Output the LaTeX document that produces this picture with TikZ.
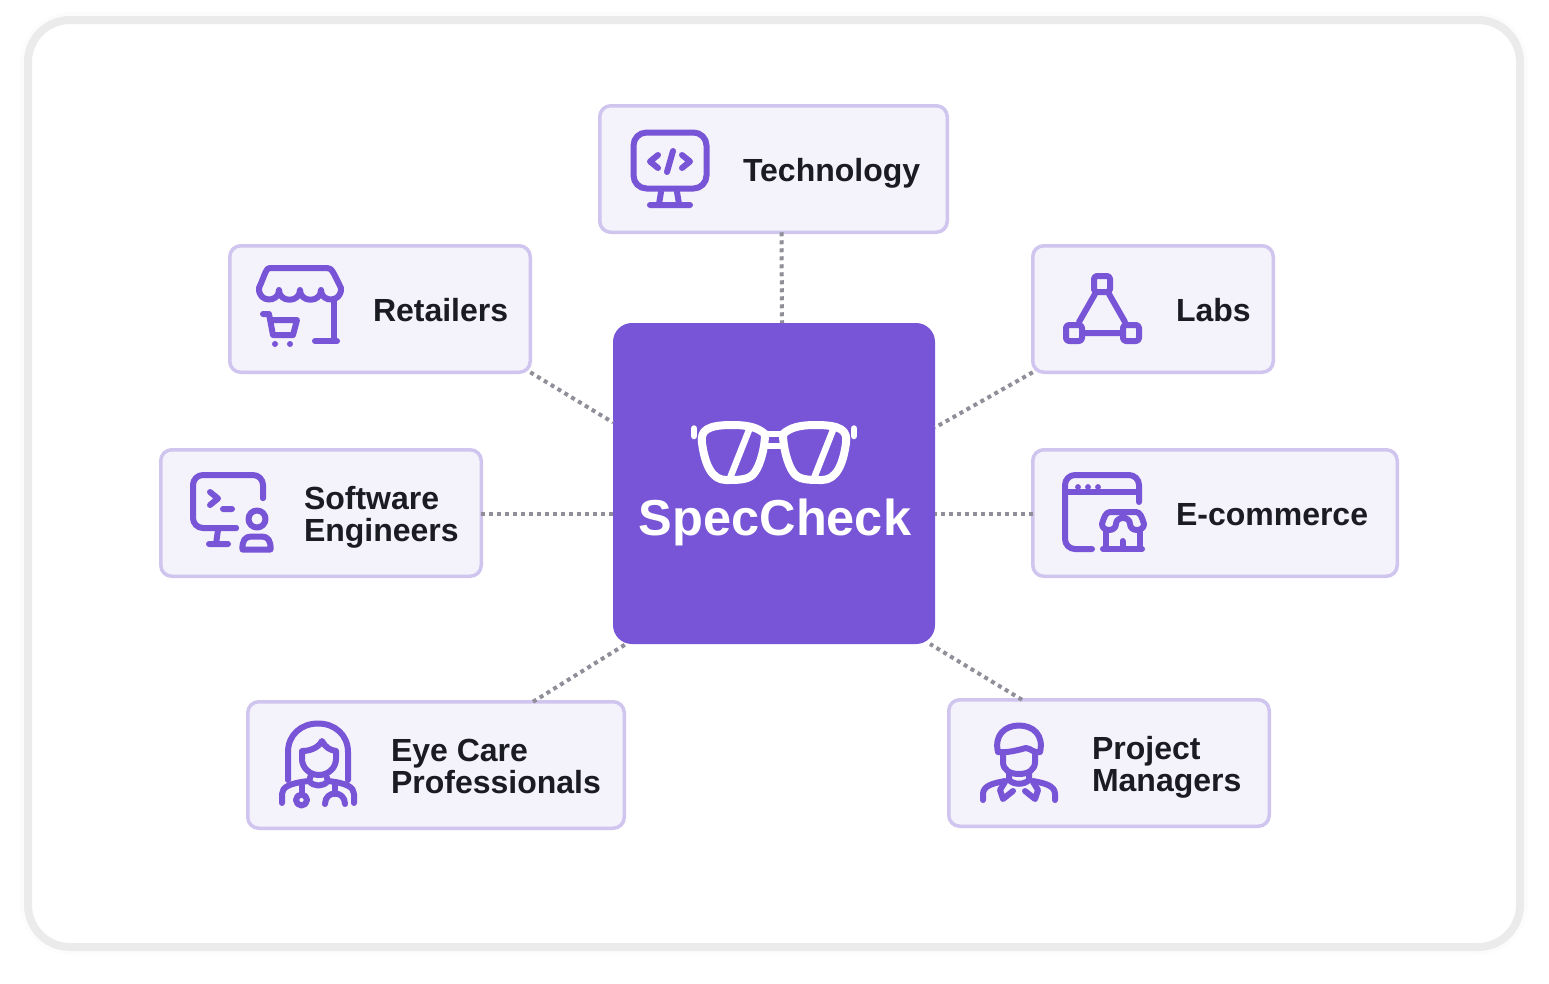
\documentclass[tikz,border=0pt]{standalone}
\usepackage{fontspec}
\setmainfont{Liberation Sans}
\definecolor{brand}{HTML}{7855D6}
\definecolor{boxfill}{HTML}{F4F2FA}
\definecolor{boxline}{HTML}{CFC5EE}
\definecolor{framecol}{HTML}{EBEBEC}
\definecolor{linkcol}{HTML}{908E98}
\definecolor{inkcol}{HTML}{1B1B22}
\tikzset{
  card/.style={draw=boxline,fill=boxfill,line width=3.5pt,rounded corners=11pt,inner sep=0pt,outer sep=0pt,rectangle},
  hubbox/.style={fill=brand,rounded corners=19pt,inner sep=0pt,outer sep=0pt,minimum width=322pt,minimum height=321pt,rectangle},
  lbl/.style={anchor=north west,inner sep=0pt,outer sep=0pt,text=inkcol,align=left,text height=24pt,text depth=7pt,font=\fontsize{32}{32}\selectfont\bfseries},
  link/.style={draw=linkcol,line width=4pt,dash pattern=on 4pt off 4pt},
  ico/.style={draw=brand,line width=6pt,line cap=round,line join=round},
  icw/.style={draw=white,line width=8pt,line cap=round,line join=round},
  dotf/.style={fill=brand,draw=none},
}
\begin{document}
\begin{tikzpicture}[x=1pt,y=-1pt]
\useasboundingbox (0,0) rectangle (1549,983);
\fill[white] (0,0) rectangle (1549,983);
% frame
\draw[draw=black!1.2,line width=16pt,rounded corners=44pt] (28,20) rectangle (1520,947);
\draw[draw=framecol,fill=white,line width=8pt,rounded corners=42pt] (28,20) rectangle (1520,947);
% hub
\node[hubbox] (hub) at (774,483.5) {};
% cards
\node[card,minimum width=347.5pt,minimum height=126.5pt] (tech) at (773.5,169) {};
\node[card,minimum width=300.5pt,minimum height=126.5pt] (retail) at (380,309) {};
\node[card,minimum width=240.5pt,minimum height=126.5pt] (labs) at (1153,309) {};
\node[card,minimum width=320.5pt,minimum height=126.5pt] (soft) at (321,513) {};
\node[card,minimum width=364.5pt,minimum height=126.5pt] (ecom) at (1215,513) {};
\node[card,minimum width=376.5pt,minimum height=126.5pt] (eye) at (436,765) {};
\node[card,minimum width=320.5pt,minimum height=126.5pt] (proj) at (1109,763) {};
% connectors
\draw[link] ([xshift=8pt]tech.south) -- ([xshift=8pt]hub.north);
\draw[link] (retail.south east) -- ([yshift=61pt]hub.west);
\draw[link] (labs.south west) -- ([yshift=56pt]hub.east);
\draw[link] ([yshift=-1pt]soft.east) -- ([yshift=-30.5pt]hub.west);
\draw[link] ([yshift=-1pt]ecom.west) -- ([yshift=-30.5pt]hub.east);
\draw[link] ([xshift=97pt]eye.north) -- ([xshift=-148pt]hub.south);
\draw[link] ([xshift=-87pt]proj.north) -- ([xshift=156pt]hub.south);
% labels
\node[lbl] (ltech) at (743,157) {Technology};
\node[lbl] (lretail) at (373,297) {Retailers};
\node[lbl] (llabs) at (1176,297) {Labs};
\node[lbl] (lsoft) at (304,517) {Software\\Engineers};
\node[lbl] (lecom) at (1176,501) {E-commerce};
\node[lbl] (leye) at (391,769) {Eye Care\\Professionals};
\node[lbl] (lproj) at (1092,767) {Project\\Managers};
\node[anchor=base,inner sep=0pt,text=white,font=\fontsize{50.5}{50}\selectfont\bfseries] (brandname) at (775,535.5) {SpecCheck};
% technology icon
\draw[ico,rounded corners=13pt] (633.5,132.5) rectangle (706.5,188.5);
\draw[ico] (661,192) -- (659,204) (677,192) -- (679,204) (650,205) -- (690,205);
\draw[ico] (658,155) -- (650,161.5) -- (658,168) (682,155) -- (690,161.5) -- (682,168) (673,151) -- (667,172);
% retail icon
\draw[ico] (270,268) -- (327,268) .. controls (332,268) and (333,272) .. (341,288)
  .. controls (342,303) and (321,303) .. (321,290) .. controls (321,303) and (300,303) .. (300,290)
  .. controls (300,303) and (279,303) .. (279,290) .. controls (279,303) and (258,303) .. (259,288)
  .. controls (266,272) and (266,268) .. (270,268) -- cycle;
\draw[ico] (334,300) -- (334,341) (315,341) -- (337,341);
\draw[ico] (263,314) -- (269,314) -- (273,335) -- (293,335) -- (297,320) -- (271,320);
\fill[dotf] (275,344) circle[radius=3pt] (290,344) circle[radius=3pt];
% labs icon
\draw[ico,rounded corners=3pt] (1094,276) rectangle (1110,292);
\draw[ico,rounded corners=3pt] (1066,325) rectangle (1082,341);
\draw[ico,rounded corners=3pt] (1123,325) rectangle (1139,341);
\draw[ico] (1095,294) -- (1079,322) (1109,294) -- (1125,322) (1085,333) -- (1120,333);
% software icon
\draw[ico,rounded corners=10pt] (263,498) -- (263,475) -- (193,475) -- (193,528) -- (236,528);
\draw[ico] (263,498) -- (263,490) (236,528) -- (225,528);
\draw[ico] (210,492) -- (218,498.5) -- (210,505) (223,509) -- (232,509);
\draw[ico] (218,530) -- (216,544) (209,544) -- (228,544);
\draw[ico] (257,519) circle[radius=8.5pt];
\draw[ico] (242.5,549.5) -- (270.5,549.5) .. controls (271,541) and (268,536.5) .. (262,536.5) -- (251,536.5) .. controls (245,536.5) and (242,541) .. (242.5,549.5) -- cycle;
% ecommerce icon
\draw[ico,rounded corners=10pt] (1139,502) -- (1139,475) -- (1065,475) -- (1065,549) -- (1092,549);
\draw[ico] (1067,492) -- (1137,492);
\fill[dotf] (1078,487) circle[radius=2.9pt] (1088,487) circle[radius=2.9pt] (1098,487) circle[radius=2.9pt];
\draw[ico] (1110,512) -- (1136,512) .. controls (1140,512) and (1142,517) .. (1144,524)
  .. controls (1144,532) and (1130,532) .. (1130,524) .. controls (1130,516) and (1116,516) .. (1116,524)
  .. controls (1116,532) and (1102,532) .. (1102,524) .. controls (1104,517) and (1106,512) .. (1110,512) -- cycle;
\draw[ico] (1106,530) -- (1106,549) (1140,530) -- (1140,549) (1103,549) -- (1142,549) (1122.5,541) -- (1122.5,549);
% eye care icon
\draw[ico] (288,780) -- (288,752) .. controls (288,735) and (301,723.5) .. (318,723.5) .. controls (335,723.5) and (348,735) .. (348,752) -- (348,780);
\draw[ico] (302,751) .. controls (310,751) and (318,748) .. (322,741) .. controls (326,748) and (330,750) .. (336,751) -- (336,759) .. controls (336,768) and (328,775) .. (319,775) .. controls (310,775) and (302,768) .. (302,759) -- cycle;
\draw[ico] (311,775) -- (309,781) .. controls (314,787) and (323,787) .. (328,781) -- (326,775);
\draw[ico] (282,803) -- (282,794) .. controls (282,787) and (290,783) .. (309,781);
\draw[ico] (354,803) -- (354,794) .. controls (354,787) and (346,783) .. (328,781);
\draw[ico] (301.5,785) -- (301.5,793);
\draw[ico] (301.5,800) circle[radius=5.5pt];
\draw[ico] (335,783) -- (335,794);
\draw[ico] (325,804) .. controls (325,790) and (345,790) .. (345,804);
% project manager icon
\draw[ico] (998,752) .. controls (994,735) and (1005,725.5) .. (1019,725.5) .. controls (1033,725.5) and (1044,735) .. (1040,752) .. controls (1033,753) and (1032,749) .. (1026,748) .. controls (1018,750) and (1008,753) .. (998,752) -- cycle;
\draw[ico] (1003,755) -- (1003,762) .. controls (1003,770) and (1010,774) .. (1019,774) .. controls (1028,774) and (1035,770) .. (1035,762) -- (1035,755);
\draw[ico] (1009,774) -- (1009,780) .. controls (1014,785) and (1024,785) .. (1029,780) -- (1029,774);
\draw[ico] (983,800) -- (983,794) .. controls (983,785) and (995,783) .. (1005,781) (1055,800) -- (1055,794) .. controls (1055,785) and (1043,783) .. (1033,781);
\draw[ico] (1005,782) -- (1000,790) -- (1003,799) -- (1013,791) (1033,782) -- (1038,790) -- (1035,799) -- (1025,791);
% glasses logo
\draw[icw] (702,443) .. controls (700,430) and (708,425) .. (732,425) .. controls (750,425) and (758,428) .. (765,434) .. controls (765,448) and (760,465) .. (755,472) .. controls (750,480) and (740,480) .. (726,480) .. controls (712,480) and (705,465) .. (702,443) -- cycle;
\draw[icw] (846,443) .. controls (848,430) and (840,425) .. (816,425) .. controls (798,425) and (790,428) .. (783,434) .. controls (783,448) and (788,465) .. (793,472) .. controls (798,480) and (808,480) .. (822,480) .. controls (836,480) and (843,465) .. (846,443) -- cycle;
\draw[draw=white,line width=6pt] (765,434) -- (783,434) (767,446) -- (781,446);
\draw[draw=white,line width=6.5pt] (749,430) -- (730,478) (833,430) -- (814,478);
\draw[draw=white,line width=6.5pt,line cap=round] (694,428.5) -- (694,436) (854,428.5) -- (854,436);
\end{tikzpicture}
\end{document}
